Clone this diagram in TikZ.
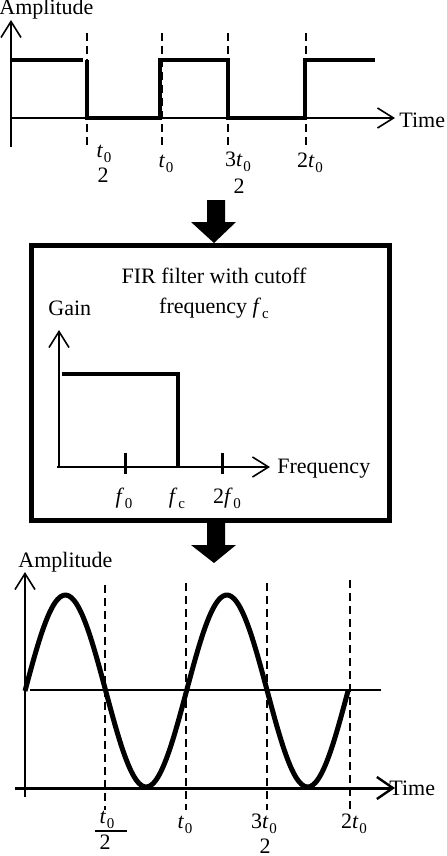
\documentclass[tikz,border=0pt]{standalone}
\usepackage{fontspec}
\setmainfont{Liberation Serif}
\usetikzlibrary{arrows.meta}
\newcommand{\ssub}[1]{\kern0.4pt\raisebox{-0.5ex}{\fontsize{7.5pt}{8pt}\selectfont #1}}
\newcommand{\tvar}{\textit{t}\ssub{0}}
\newcommand{\fvar}[1]{\textit{f}\ssub{#1}}
\tikzset{
  lbl/.style={inner sep=0pt, anchor=base, font=\fontsize{11pt}{13pt}\selectfont},
  axis/.style={line width=0.8pt, -{Straight Barb[length=8pt,width=10pt,line width=0.8pt]}},
  thickaxis/.style={line width=1.5pt, -{Straight Barb[length=8pt,width=11pt,line width=1.2pt]}},
  sig/.style={line width=2.2pt},
  guide/.style={line width=1.3pt, dash pattern=on 4pt off 2.5pt},
  blockarrow/.style={fill=black, draw=none}
}
\begin{document}
\begin{tikzpicture}[x=0.5pt,y=-0.5pt]
\useasboundingbox (0,0) rectangle (446,856);
% ---------- top panel ----------
\node[lbl, anchor=base west] (amp1) at (-1,15) {Amplitude};
\node[lbl, anchor=base west] (time1) at (399,127) {Time};
\coordinate (o1) at (11,118);
\draw[axis] (11,147) -- (11,20);
\draw[axis] (o1) -- (395,118);
\foreach \xx in {87,162,228,306}
  \draw[guide] (\xx,33) -- (\xx,145);
\draw[sig] (11,60) -- (83,60);
\draw[sig] (87,60) -- (87,118) -- (160,118) -- (160,60) -- (228,60) -- (228,118) -- (305,118) -- (305,60) -- (375,60);
\node[lbl] (a1) at (104,157) {\tvar};
\node[lbl] (a1b) at (103,182) {2};
\node[lbl] (a2) at (166,167) {\tvar};
\node[lbl] (a3) at (238,166) {3\tvar};
\node[lbl] (a3b) at (239,193) {2};
\node[lbl] (a4) at (310,167) {2\tvar};
% ---------- arrow 1 ----------
\fill[blockarrow] (207,200) -- (225,200) -- (225,222) -- (236,222) -- (214,243) -- (191,222) -- (207,222) -- cycle;
% ---------- filter box ----------
\draw[line width=2.5pt] (31,245) rectangle (389,520);
\node[lbl] (t1) at (214,283) {FIR filter with cutoff};
\node[lbl] (t2) at (214,313) {frequency \fvar{c}};
\node[lbl, anchor=base west] (gain) at (48,315) {Gain};
\node[lbl, anchor=base west] (freq) at (277,473) {Frequency};
\draw[axis] (59,467) -- (59,330);
\draw[axis] (57,467) -- (270,467);
\draw[sig] (62,374) -- (178,374) -- (178,467);
\draw[line width=1.5pt] (125,453) -- (125,474);
\draw[line width=1.5pt] (222,453) -- (222,474);
\node[lbl] (f0) at (124,503) {\fvar{0}};
\node[lbl] (fc) at (177,503) {\fvar{c}};
\node[lbl] (f2) at (227,503) {2\fvar{0}};
% ---------- arrow 2 ----------
\fill[blockarrow] (207,518) -- (225,518) -- (225,545) -- (236,545) -- (214,563) -- (191,545) -- (207,545) -- cycle;
% ---------- bottom panel ----------
\node[lbl, anchor=base west] (amp2) at (18,567) {Amplitude};
\node[lbl, anchor=base west] (time2) at (389,795) {Time};
\draw[axis] (25,797) -- (25,572);
\draw[line width=0.8pt] (30,690) -- (381,690);
\draw[thickaxis] (15,788) -- (395,788);
\foreach \xx/\yy in {105/585,186/583,267/583,350/580}
  \draw[guide] (\xx,\yy) -- (\xx,810);
\draw[line width=2.5pt, line join=round] plot[domain=25:348, samples=120, smooth] (\x, {691 - 96*sin((\x-25)/161.5*360)});
\node[lbl] (b1) at (107,823) {\tvar};
\draw[line width=0.6pt] (95,831) -- (127,831);
\node[lbl] (b1b) at (105,849) {2};
\node[lbl] (b2) at (185,828) {\tvar};
\node[lbl] (b3) at (264,828) {3\tvar};
\node[lbl] (b3b) at (265,853) {2};
\node[lbl] (b4) at (354,828) {2\tvar};
\end{tikzpicture}
\end{document}
